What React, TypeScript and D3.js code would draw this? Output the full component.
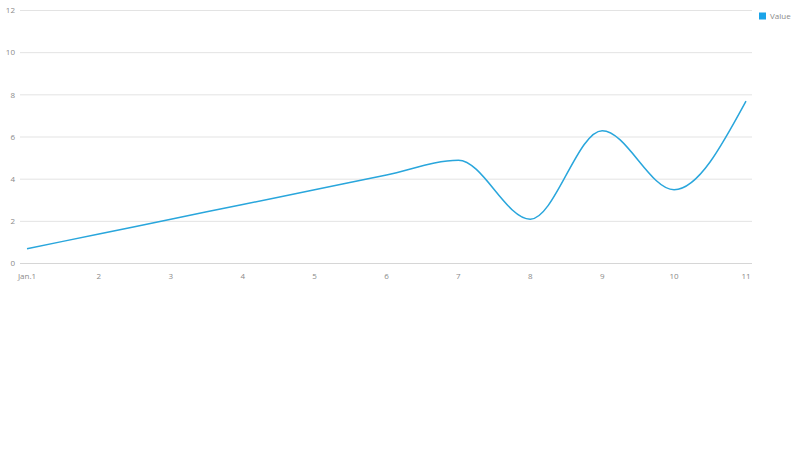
import React, { useEffect } from 'react'
import * as d3 from 'd3'

const categories = ['Jan.1', '2', '3', '4', '5', '6', '7', '8', '9', '10', '11']
const values = [0.7, 1.4, 2.1, 2.8, 3.5, 4.2, 4.9, 2.1, 6.3, 3.5, 7.7]
const yTicks = [0, 2, 4, 6, 8, 10, 12]
const seriesName = 'Value'

const W = 800
const H = 450
const FONT = '"Open Sans", "Noto Sans", sans-serif'
const LINE_COLOR = '#29a6dc'

const App: React.FC = () => {
  useEffect(() => {
    document.body.style.margin = '0'
  }, [])

  const x = d3.scalePoint<string>().domain(categories).range([27, 746])
  const y = d3.scaleLinear().domain([0, 12]).range([263.5, 10.5])

  const line = d3.line<number>()
    .x((_, i) => x(categories[i]) || 0)
    .y(d => y(d))
    .curve(d3.curveMonotoneX)

  return (
    <svg width={W} height={H} style={{ display: 'block', fontFamily: FONT }}>
      <rect width={W} height={H} fill="#fff" />
      {/* grid lines + y labels */}
      {yTicks.map(t => (
        <g key={t}>
          <line x1={20} x2={752} y1={y(t)} y2={y(t)} stroke={t === 0 ? '#d6d6d6' : '#e3e3e3'} strokeWidth={1} />
          <text x={15} y={y(t)} dy="0.35em" textAnchor="end" fontSize={8} fill="#8a8a8a">{t}</text>
        </g>
      ))}
      {/* x labels */}
      {categories.map(c => (
        <text key={c} x={x(c)} y={279} textAnchor="middle" fontSize={8} fill="#8a8a8a">{c}</text>
      ))}
      {/* line */}
      <path d={line(values) || ''} fill="none" stroke={LINE_COLOR} strokeWidth={1.5} />
      {/* legend */}
      <rect x={759} y={12.5} width={7} height={7} fill="#1aa3e8" />
      <text x={770} y={16} dy="0.35em" fontSize={8} fill="#8a8a8a">{seriesName}</text>
    </svg>
  )
}

export default App
